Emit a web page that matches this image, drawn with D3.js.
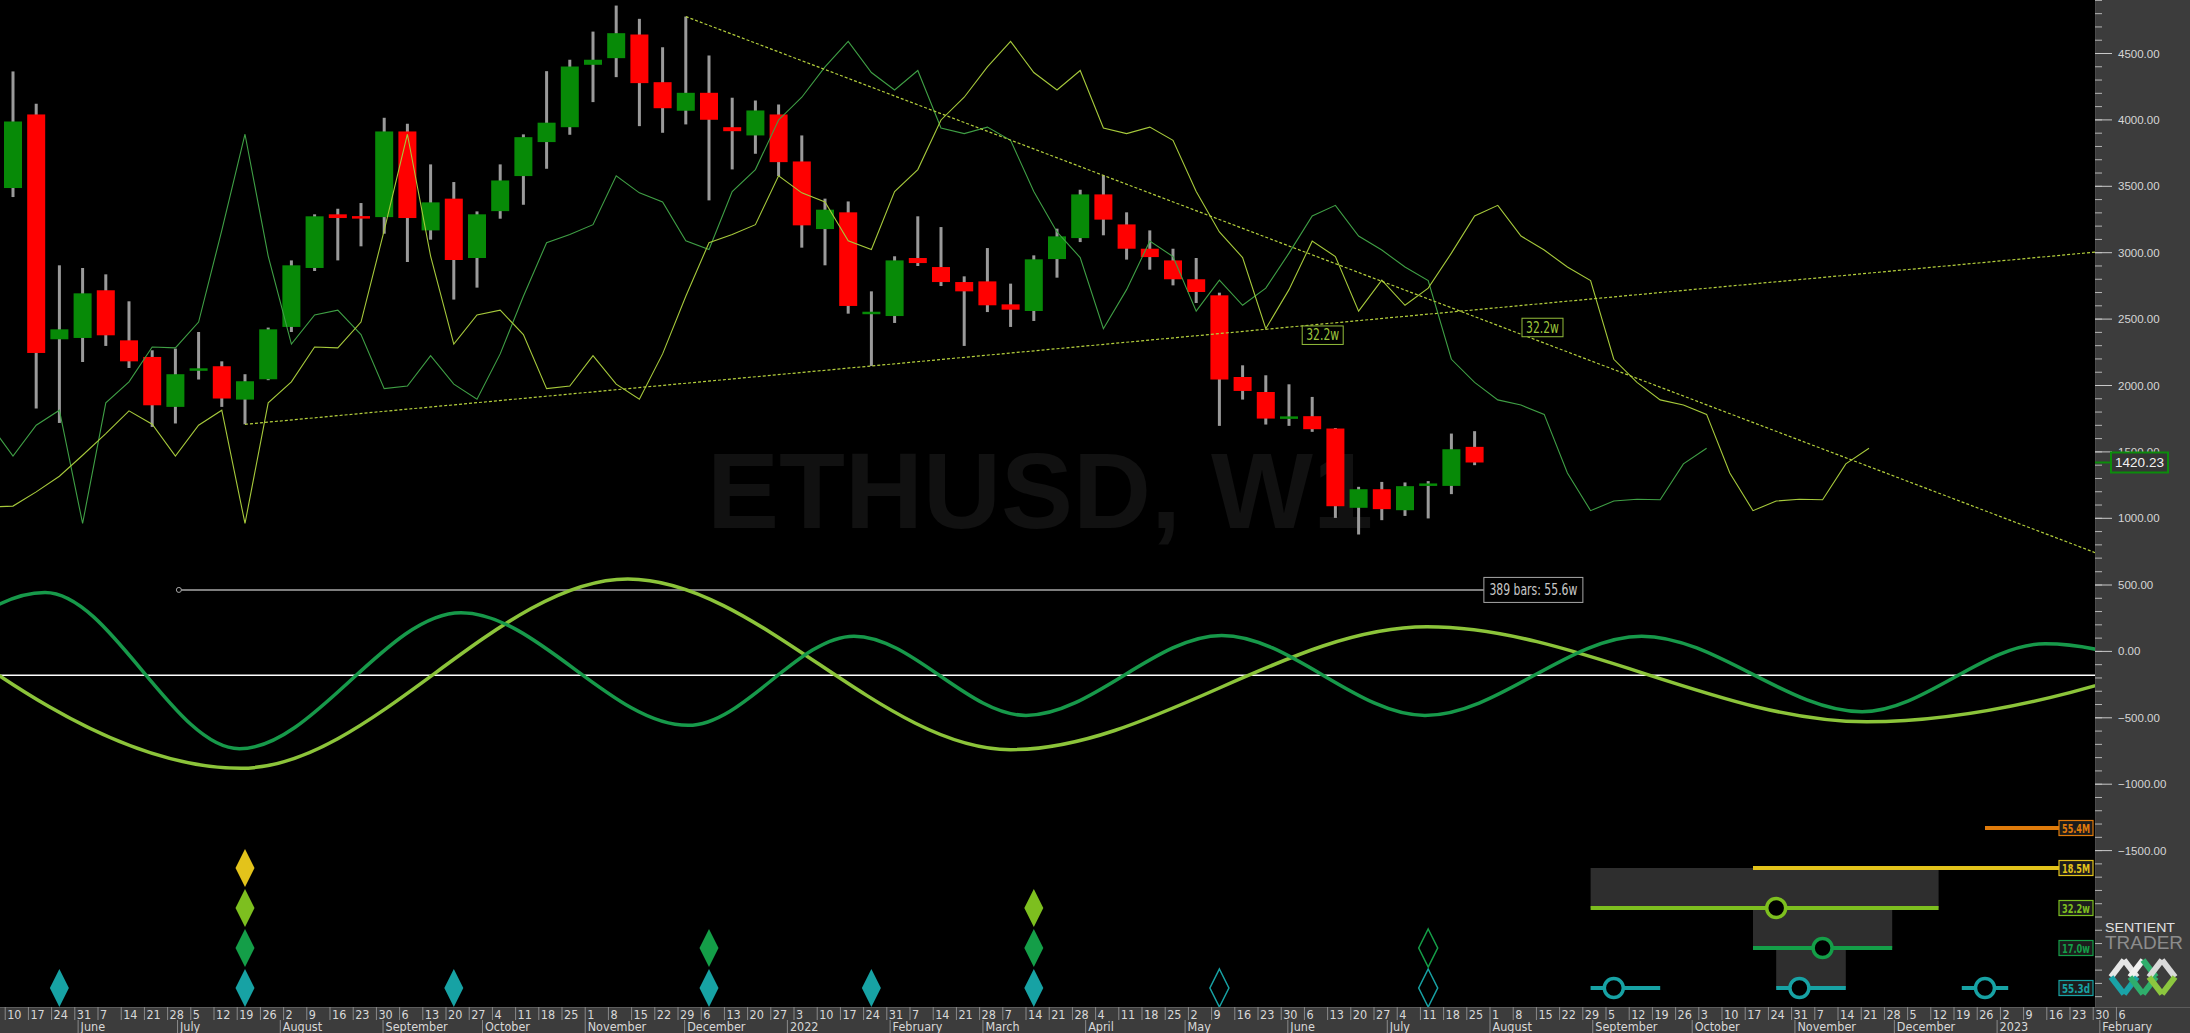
<!DOCTYPE html>
<html><head><meta charset="utf-8">
<script src="https://cdn.jsdelivr.net/npm/d3@7"></script>
<style>
html,body{margin:0;padding:0;background:#000;overflow:hidden}
svg{display:block}
text{font-family:"Liberation Sans",Arial,sans-serif}
.nar{font-family:"Liberation Sans Narrow","DejaVu Sans Condensed","Arial Narrow",sans-serif;font-stretch:condensed}
</style></head><body>
<svg id="c" width="2190" height="1033"></svg>
<script>
// ---------------- DATA ----------------
const firstBarWeek = "2021-05-10";           // Monday of first weekly bar
const lastTickWeek = "2023-02-06";
const opens  = [3487,4041,2348,2358,2717,2340,2215,1839,2107,2145,1894,2047,2441,2885,3289,3268,3268,3913,3168,3407,2960,3313,3577,3833,3945,4415,4465,4643,4284,4069,4204,3945,3883,4041,3687,3178,3304,2535,2523,2960,2892,2779,2784,2611,2561,2952,3110,3439,3213,3030,2942,2800,2679,2064,1951,1745,1769,1676,1079,1219,1061,1242,1244,1538];
const highs  = [4365,4122,2905,2885,2837,2634,2265,2278,2403,2182,2085,2436,2942,3289,3331,3374,4016,3971,3665,3532,3311,3665,3891,4367,4453,4665,4861,4761,4547,4778,4485,4167,4146,4116,3883,3407,3386,2709,2973,3274,3193,2822,3035,2767,2980,3181,3474,3582,3304,3168,3030,2960,2699,2152,2077,2009,1914,1680,1237,1274,1270,1280,1638,1656];
const lows   = [3419,1827,1718,2177,2298,2132,1688,1714,2045,1839,1708,2040,2403,2862,2942,3048,3143,2930,3098,2647,2737,3256,3361,3632,3888,4134,4322,3953,3903,3966,3394,3627,3745,3577,3038,2905,2541,2147,2471,2900,2749,2298,2553,2441,2486,2812,3080,3131,2948,2872,2754,2621,1696,1894,1706,1696,1651,1003,878,986,1018,999,1182,1400];
const closes = [3988,2245,2423,2694,2378,2182,1851,2085,2122,1902,2032,2423,2905,3274,3261,3261,3913,3261,3379,2945,3289,3544,3870,3979,4402,4453,4653,4277,4088,4204,4001,3915,4071,3682,3206,3324,2599,2548,2942,2922,2779,2709,2604,2571,2950,3123,3439,3249,3030,2967,2800,2704,2045,1959,1751,1760,1671,1091,1219,1069,1242,1255,1520,1420.23];
const lastPrice = 1420.23;
// median prices of the 18 weeks before the first visible bar (feed the FLDs)
const priorMedians = [1085,1092,1199,1317,1475,1638,1809,1708,1468,1701,1814,961,1869,2027,2290,2283,2478,3168];
const fldShifts = [10, 17];               // bars
const fldColors = ["#3f9f45", "#a6c93b"];
// trend lines (bar index, price)
const lowerTrendBars = [10, 37], lowerTrendPrices = [1708, 2147];
const upperTrendBars = [29, 47], upperTrendPrices = [4778, 3582];
// composite cycle waves (bar index, value)
const wave17Bars   = [-7, 1.38, 9.76, 19.31, 29.1, 36.25, 43.66, 52.1, 60.86, 70.2, 79.7, 87.6, 96.5];
const wave17Values = [-700, 444, -733, 291, -557, 115, -482, 120, -482, 115, -454, 58, -450];
const wave32Bars   = [-6.7, 9.83, 26.5, 43.0, 60.95, 79.9, 97.5];
const wave32Values = [600, -880, 546, -740, 185, -530, 180];
const baselineValue = -180;
const measureFrom = 7.15, measureTo = 63.4, measureValue = 463, measureText = "389 bars: 55.6w";
// cycles
const cycleNames  = ["55.4M", "18.5M", "32.2w", "17.0w", "55.3d"];
const cycleColors = ["#e07b0b", "#e3c31b", "#7dbf1f", "#149e48", "#17a2a4"];
const phaseBoxFrom = {"32.2w": 68, "17.0w": 75, "55.3d": 76};
const phaseBoxTo   = {"32.2w": 83, "17.0w": 81, "55.3d": 79};
const phaseLines = [["55.4M",85,null],["18.5M",75,null],["32.2w",68,83],["17.0w",75,81],["55.3d",68,71],["55.3d",76,79],["55.3d",84,86]];
const phaseCenters = [["32.2w",76],["17.0w",78],["55.3d",69],["55.3d",77],["55.3d",85]];
const troughFilled = {"55.3d":[2,10,19,30,37,44], "17.0w":[10,30,44], "32.2w":[10,44], "18.5M":[10]};
const troughHollow = {"55.3d":[52,61], "17.0w":[61]};
const fldLabelText = "32.2w";
const priceTicks = [1000,1500,2000,2500,3000,3500,4000,4500];
const oscTicks = [-1500,-1000,-500,0,500];

// ---------------- LAYOUT ----------------
const W = 2190, H = 1033, PR = 2095, AB = 1007;
const DAY = 864e5;
const t0 = d3.timeParse("%Y-%m-%d")(firstBarWeek), t1 = d3.timeParse("%Y-%m-%d")(lastTickWeek);
const nWeeks = Math.round((t1 - t0) / (7 * DAY));
const x = d3.scaleTime().domain([t0, t1]).range([4.71, 4.71 + nWeeks * 23.2]);
const barDate = k => new Date(t0.getTime() + (k * 7 + 2.5) * DAY);
const xb = k => x(barDate(k));
const yP = d3.scaleLinear().domain([1000, 4500]).range([518.3, 53.5]);
const yO = d3.scaleLinear().domain([-1500, 500]).range([850.6, 585]);
const rowY = d3.scalePoint().domain(cycleNames).range([828, 988]);
const col = n => cycleColors[cycleNames.indexOf(n)];

const svg = d3.select("#c");
svg.append("rect").attr("width", W).attr("height", H).attr("fill", "#000");
svg.append("defs").append("clipPath").attr("id", "plot")
  .append("rect").attr("x", 0).attr("y", 0).attr("width", PR).attr("height", AB);
const g = svg.append("g").attr("clip-path", "url(#plot)");

// watermark
g.append("text").attr("x", 1040).attr("y", 528).attr("text-anchor", "middle")
  .attr("font-size", 108).attr("font-weight", "bold").attr("fill", "#111111").text("ETHUSD, W1");

// candles
const bars = opens.map((o, i) => ({k: i, o, h: highs[i], l: lows[i], c: closes[i]}));
g.append("g").selectAll("line").data(bars).join("line")
  .attr("x1", d => xb(d.k)).attr("x2", d => xb(d.k))
  .attr("y1", d => yP(d.h)).attr("y2", d => yP(d.l))
  .attr("stroke", "#9a9a9a").attr("stroke-width", 3);
g.append("g").selectAll("rect").data(bars).join("rect")
  .attr("x", d => xb(d.k) - 9).attr("width", 18)
  .attr("y", d => Math.min(yP(d.o), yP(d.c)) - (Math.abs(yP(d.o) - yP(d.c)) < 2.5 ? 1 : 0))
  .attr("height", d => Math.max(2.5, Math.abs(yP(d.o) - yP(d.c))))
  .attr("fill", d => d.c >= d.o ? "#078a07" : "#ff0000");

// FLD lines
const medians = priorMedians.concat(bars.map(d => (d.h + d.l) / 2));
const firstIdx = -priorMedians.length;
const pline = d3.line().x(d => xb(d[0])).y(d => yP(d[1]));
fldShifts.forEach((s, i) => {
  g.append("path").attr("d", pline(medians.map((m, j) => [firstIdx + j + s, m])))
    .attr("fill", "none").attr("stroke", fldColors[i]).attr("stroke-width", 1.1);
});

// trend lines
const lowT = d3.scaleLinear().domain(lowerTrendBars).range(lowerTrendPrices);
const upT = d3.scaleLinear().domain(upperTrendBars).range(upperTrendPrices);
[[lowT, lowerTrendBars[0]], [upT, upperTrendBars[0]]].forEach(([f, k0]) => {
  g.append("path").attr("d", pline([[k0, f(k0)], [96, f(96)]]))
    .attr("fill", "none").attr("stroke", "#b4cf3c").attr("stroke-width", 1.2).attr("stroke-dasharray", "3,2");
});
// 32.2w labels
function fldLabel(x0, y0) {
  g.append("rect").attr("x", x0).attr("y", y0).attr("width", 41).attr("height", 18.5)
    .attr("fill", "#000").attr("stroke", "#93bd3a").attr("stroke-width", 1);
  g.append("text").attr("class", "nar").attr("x", x0 + 20.5).attr("y", y0 + 14.5).attr("text-anchor", "middle")
    .attr("font-size", 15).attr("fill", "#9cc43c").attr("textLength", 33).attr("lengthAdjust", "spacingAndGlyphs").text(fldLabelText);
}
fldLabel(xb(56) - 10, yP(lowT(56)) + 1);
fldLabel(xb(65) + 1, yP(upT(65)) - 16);

// oscillator panel
g.append("line").attr("x1", 0).attr("x2", PR).attr("y1", yO(baselineValue)).attr("y2", yO(baselineValue))
  .attr("stroke", "#fff").attr("stroke-width", 1.5);
g.append("line").attr("x1", xb(measureFrom)).attr("x2", xb(measureTo)).attr("y1", yO(measureValue)).attr("y2", yO(measureValue))
  .attr("stroke", "#a8a8a8").attr("stroke-width", 1.5);
g.append("circle").attr("cx", xb(measureFrom)).attr("cy", yO(measureValue)).attr("r", 2.5)
  .attr("fill", "#000").attr("stroke", "#a8a8a8");
g.append("rect").attr("x", xb(measureTo)).attr("y", yO(measureValue) - 12.5).attr("width", 99).attr("height", 25)
  .attr("fill", "#000").attr("stroke", "#a8a8a8").attr("stroke-width", 1);
g.append("text").attr("class", "nar").attr("x", xb(measureTo) + 49.5).attr("y", yO(measureValue) + 5.5).attr("text-anchor", "middle")
  .attr("font-size", 15).attr("fill", "#c8c8c8").attr("textLength", 88).attr("lengthAdjust", "spacingAndGlyphs").text(measureText);

const wline = d3.line().x(d => xb(d[0])).y(d => yO(d[1])).curve(d3.curveMonotoneX);
g.append("path").attr("d", wline(wave32Bars.map((k, i) => [k, wave32Values[i]])))
  .attr("fill", "none").attr("stroke", "#8cc43a").attr("stroke-width", 3.5);
g.append("path").attr("d", wline(wave17Bars.map((k, i) => [k, wave17Values[i]])))
  .attr("fill", "none").attr("stroke", "#17994a").attr("stroke-width", 3.5);

// cycle phase boxes
Object.keys(phaseBoxFrom).forEach(n => {
  g.append("rect").attr("x", xb(phaseBoxFrom[n])).attr("width", xb(phaseBoxTo[n]) - xb(phaseBoxFrom[n]))
    .attr("y", rowY(n) - rowY.step()).attr("height", rowY.step()).attr("fill", "#2e2e2e");
});
const labelX = 2059;
phaseLines.forEach(([n, a, b]) => {
  g.append("line").attr("x1", xb(a)).attr("x2", b === null ? labelX : xb(b))
    .attr("y1", rowY(n)).attr("y2", rowY(n)).attr("stroke", col(n)).attr("stroke-width", 4);
});
phaseCenters.forEach(([n, k]) => {
  g.append("circle").attr("cx", xb(k)).attr("cy", rowY(n)).attr("r", 9.5)
    .attr("fill", "#000").attr("stroke", col(n)).attr("stroke-width", 3.5);
});
// trough diamonds
const diamond = (cx, cy) => `M${cx},${cy - 19}L${cx + 9.5},${cy}L${cx},${cy + 19}L${cx - 9.5},${cy}Z`;
Object.entries(troughFilled).forEach(([n, ks]) => ks.forEach(k =>
  g.append("path").attr("d", diamond(xb(k), rowY(n))).attr("fill", col(n))));
Object.entries(troughHollow).forEach(([n, ks]) => ks.forEach(k =>
  g.append("path").attr("d", diamond(xb(k), rowY(n))).attr("fill", "none").attr("stroke", col(n)).attr("stroke-width", 1.5)));
// cycle labels
cycleNames.forEach(n => {
  g.append("rect").attr("x", labelX).attr("y", rowY(n) - 7.5).attr("width", 34).attr("height", 15)
    .attr("fill", "#1c1c1c").attr("stroke", col(n)).attr("stroke-width", 1.2);
  g.append("text").attr("class", "nar").attr("x", labelX + 17).attr("y", rowY(n) + 4.8).attr("text-anchor", "middle")
    .attr("font-size", 13).attr("font-weight", "bold").attr("fill", col(n))
    .attr("textLength", 28).attr("lengthAdjust", "spacingAndGlyphs").text(n);
});

// ---------------- RIGHT AXIS ----------------
svg.append("rect").attr("x", PR).attr("y", 0).attr("width", W - PR).attr("height", AB).attr("fill", "#3c3c3c");
svg.append("line").attr("x1", PR + 0.5).attr("x2", PR + 0.5).attr("y1", 0).attr("y2", AB).attr("stroke", "#4a4a4a");
const ax = svg.append("g");
d3.range(700, 4901, 100).forEach(v => ax.append("line").attr("x1", PR).attr("x2", PR + 7)
  .attr("y1", yP(v)).attr("y2", yP(v)).attr("stroke", "#b5b5b5"));
d3.range(-2600, 601, 100).forEach(v => ax.append("line").attr("x1", PR).attr("x2", PR + 7)
  .attr("y1", yO(v)).attr("y2", yO(v)).attr("stroke", "#b5b5b5"));
priceTicks.forEach(v => {
  ax.append("line").attr("x1", PR).attr("x2", PR + 17).attr("y1", yP(v)).attr("y2", yP(v)).attr("stroke", "#c8c8c8");
  ax.append("text").attr("x", 2118).attr("y", yP(v) + 4).attr("font-size", 11.5).attr("fill", "#d6d6d6").text(d3.format(".2f")(v));
});
oscTicks.forEach(v => {
  ax.append("line").attr("x1", PR).attr("x2", PR + 17).attr("y1", yO(v)).attr("y2", yO(v)).attr("stroke", "#c8c8c8");
  ax.append("text").attr("x", 2118).attr("y", yO(v) + 4).attr("font-size", 11.5).attr("fill", "#d6d6d6").text(d3.format(".2f")(v));
});
// last price marker
ax.append("line").attr("x1", PR).attr("x2", 2111).attr("y1", yP(lastPrice)).attr("y2", yP(lastPrice))
  .attr("stroke", "#0c8c0c").attr("stroke-width", 2);
ax.append("rect").attr("x", 2111).attr("y", yP(lastPrice) - 10).attr("width", 57).attr("height", 20)
  .attr("fill", "#353535").attr("stroke", "#0c8c0c").attr("stroke-width", 2);
ax.append("text").attr("x", 2139.5).attr("y", yP(lastPrice) + 5).attr("text-anchor", "middle")
  .attr("font-size", 13.5).attr("fill", "#f2f2f2").text(d3.format(".2f")(lastPrice));

// logo
ax.append("text").attr("x", 2105).attr("y", 932).attr("font-size", 12.5).attr("fill", "#e2e2e2")
  .attr("textLength", 70).attr("lengthAdjust", "spacingAndGlyphs").text("SENTIENT");
ax.append("text").attr("x", 2105).attr("y", 949).attr("font-size", 18).attr("font-weight", 300).attr("fill", "#8c8c8c")
  .attr("textLength", 78).attr("lengthAdjust", "spacingAndGlyphs").text("TRADER");
const logo = ax.append("g").attr("fill", "none").attr("stroke-width", 6).attr("stroke-linejoin", "miter");
[[2124, "#1aa3a8", "#e6e6e6"], [2143, "#2fae6c", "#f0f0f0"], [2162, "#8cc63f", "#d9d9d9"]].forEach(([cx, c1, c2], i) => {
  const cy = 977, hw = 13, hh = 17;
  logo.append("path").attr("d", `M${cx - hw},${cy}L${cx},${cy - hh}`).attr("stroke", c2);
  logo.append("path").attr("d", `M${cx},${cy - hh}L${cx + hw},${cy}`).attr("stroke", i === 1 ? c1 : c2);
  logo.append("path").attr("d", `M${cx + hw},${cy}L${cx},${cy + hh}`).attr("stroke", c1);
  logo.append("path").attr("d", `M${cx},${cy + hh}L${cx - hw},${cy}`).attr("stroke", c1);
});

// ---------------- DATE AXIS ----------------
svg.append("rect").attr("x", 0).attr("y", AB).attr("width", W).attr("height", H - AB).attr("fill", "#3c3c3c");
svg.append("line").attr("x1", 0).attr("x2", W).attr("y1", AB + 0.5).attr("y2", AB + 0.5).attr("stroke", "#5c5c5c");
const dax = svg.append("g");
const mondays = d3.timeMonday.range(t0, d3.timeDay.offset(t1, 1));
mondays.forEach(d => {
  dax.append("line").attr("x1", x(d) + 0.5).attr("x2", x(d) + 0.5).attr("y1", AB).attr("y2", AB + 13).attr("stroke", "#8a8a8a");
  dax.append("text").attr("class", "nar").attr("x", x(d) + 2.5).attr("y", 1018.5).attr("font-size", 12.5)
    .attr("fill", "#d8d8d8").text(d3.timeFormat("%-d")(d));
});
const months = d3.timeMonth.range(d3.timeMonth.ceil(t0), d3.timeDay.offset(t1, 1));
months.forEach(m => {
  dax.append("line").attr("x1", x(m) + 0.5).attr("x2", x(m) + 0.5).attr("y1", AB + 13).attr("y2", H).attr("stroke", "#8a8a8a");
  dax.append("text").attr("class", "nar").attr("x", x(m) + 3).attr("y", 1031).attr("font-size", 12.5)
    .attr("fill", "#d8d8d8").text(m.getMonth() === 0 ? String(m.getFullYear()) : d3.timeFormat("%B")(m));
});
</script>
</body></html>
